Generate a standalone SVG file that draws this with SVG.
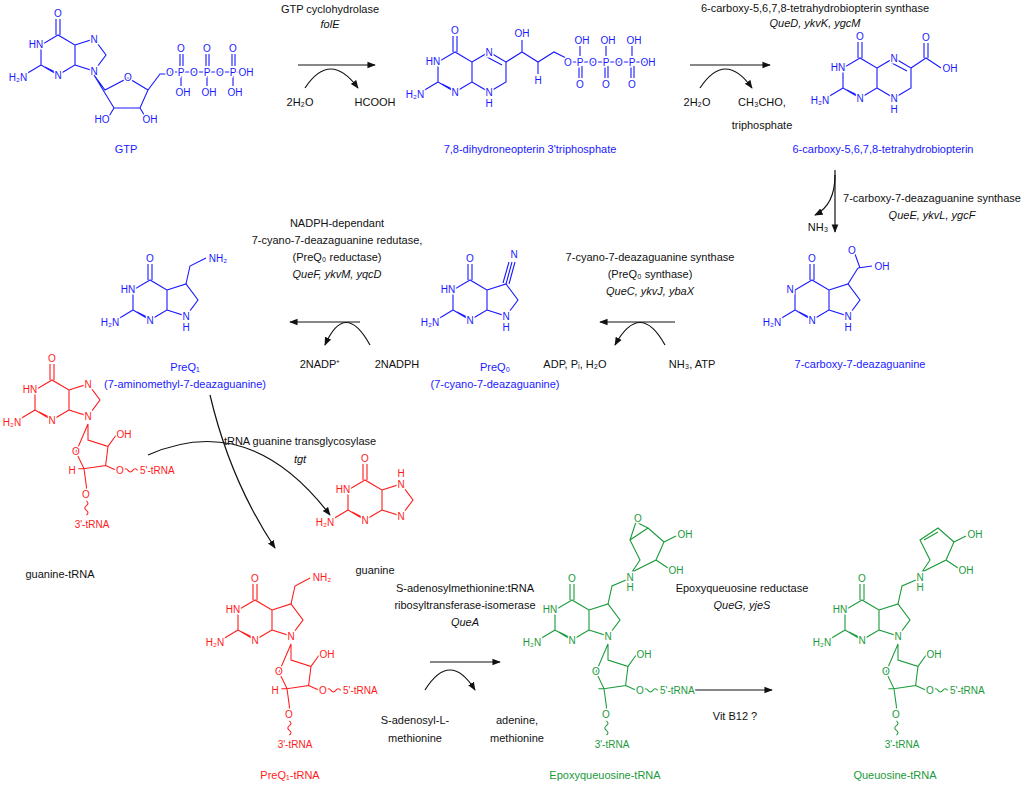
<svg xmlns="http://www.w3.org/2000/svg" xmlns:xlink="http://www.w3.org/1999/xlink" width="1024" height="789" viewBox="0 0 1024 789">
<style>
text{font-family:"Liberation Sans",Arial,sans-serif;font-size:11px}
.t{fill:#111;text-anchor:middle}
.i{font-style:italic}
.a{font-size:10px;text-anchor:middle;fill:currentColor;paint-order:stroke;stroke:#fff;stroke-width:3px}
.s{text-anchor:start}
.b{fill:none;stroke:currentColor;stroke-width:1.1}
.ar{fill:none;stroke:#111;stroke-width:1.2}
.blue{color:#1a1aff;fill:#1a1aff}
.red{color:#ff1a1a;fill:#ff1a1a}
.green{color:#1a9a3a;fill:#1a9a3a}
</style>
<defs>
<marker id="ah" viewBox="0 0 10 10" refX="9" refY="5" markerWidth="7" markerHeight="7" orient="auto"><path d="M0,1 L10,5 L0,9 Z" fill="#111"/></marker>
<path id="purine" class="b" d="M0,-20 L-17,-10 L-17,10 L0,20 L17,10 L17,-10 Z M17,-10 L36,-16 L48,0 L36,16 L17,10 M-2,-20 L-2,-36 M2,-20 L2,-36 M-13,12 L-1,18 M-17,10 L-32,19"/>
<path id="pterin" class="b" d="M0,-20 L-17,-10 L-17,10 L0,20 L17,10 L17,-10 Z M17,-10 L34,-20 L51,-10 L51,10 L34,20 L17,10 M-2,-20 L-2,-36 M2,-20 L2,-36 M-13,12 L-1,18 M-17,10 L-32,19 M30,-16 L47,-7"/>
<g id="sugar" class="b">
<path d="M0,0 L0,20 L25,28 L22,52 L-5,56 L-15,35 Z M25,28 L35,14 M22,52 L36,58 M-5,56 L-2,78 L-2,84 M-12,56 L-5,56" stroke-width="1.3"/>
<path d="M44,58 q3,-4 6,0 t6,0 t6,0 M-2,96 q4,3 0,6 t0,6 t0,6" stroke-width="1.3"/>
</g>
</defs>

<g id="connectors">
<line class="ar" x1="298" y1="65" x2="375" y2="65" marker-end="url(#ah)"/>
<path class="ar" d="M305,88 Q330,50 358,88" marker-end="url(#ah)"/>
<line class="ar" x1="690" y1="65" x2="770" y2="65" marker-end="url(#ah)"/>
<path class="ar" d="M700,88 Q725,50 752,88" marker-end="url(#ah)"/>
<line class="ar" x1="835" y1="170" x2="835" y2="232" marker-end="url(#ah)"/>
<path class="ar" d="M835,175 Q835,205 815,215" marker-end="url(#ah)"/>
<line class="ar" x1="675" y1="322" x2="600" y2="322" marker-end="url(#ah)"/>
<path class="ar" d="M665,345 Q640,300 615,345" marker-end="url(#ah)"/>
<line class="ar" x1="360" y1="322" x2="290" y2="322" marker-end="url(#ah)"/>
<path class="ar" d="M370,345 Q345,300 325,345" marker-end="url(#ah)"/>
<path class="ar" d="M210,395 Q230,480 275,548" marker-end="url(#ah)"/>
<path class="ar" d="M148,455 Q250,410 330,515" marker-end="url(#ah)"/>
<line class="ar" x1="430" y1="662" x2="500" y2="662" marker-end="url(#ah)"/>
<path class="ar" d="M425,690 Q450,650 475,690" marker-end="url(#ah)"/>
<line class="ar" x1="695" y1="690" x2="772" y2="690" marker-end="url(#ah)"/>
</g>

<g id="labels">
<text class="t" x="330" y="13">GTP cyclohydrolase</text>
<text class="t i" x="330" y="28">folE</text>
<text class="t" x="300" y="106">2H₂O</text>
<text class="t" x="375" y="106">HCOOH</text>
<text class="t" x="815" y="12">6-carboxy-5,6,7,8-tetrahydrobiopterin synthase</text>
<text class="t i" x="815" y="27">QueD, ykvK, ygcM</text>
<text class="t" x="697" y="106">2H₂O</text>
<text class="t" x="762" y="106">CH₃CHO,</text>
<text class="t" x="762" y="129">triphosphate</text>
<text class="t" x="932" y="202">7-carboxy-7-deazaguanine synthase</text>
<text class="t i" x="932" y="219">QueE, ykvL, ygcF</text>
<text class="t" x="818" y="231">NH₃</text>
<text class="t" x="650" y="261">7-cyano-7-deazaguanine synthase</text>
<text class="t" x="650" y="278">(PreQ₀ synthase)</text>
<text class="t i" x="650" y="295">QueC, ykvJ, ybaX</text>
<text class="t" x="575" y="368">ADP, Pᵢ, H₂O</text>
<text class="t" x="692" y="368">NH₃, ATP</text>
<text class="t" x="337" y="227">NADPH-dependant</text>
<text class="t" x="337" y="244">7-cyano-7-deazaguanine redutase,</text>
<text class="t" x="337" y="261">(PreQ₀ reductase)</text>
<text class="t i" x="337" y="278">QueF, ykvM, yqcD</text>
<text class="t" x="320" y="368">2NADP⁺</text>
<text class="t" x="397" y="368">2NADPH</text>
<text class="t" x="300" y="445">tRNA guanine transglycosylase</text>
<text class="t i" x="300" y="463">tgt</text>
<text class="t" x="465" y="592">S-adenosylmethionine:tRNA</text>
<text class="t" x="465" y="609">ribosyltransferase-isomerase</text>
<text class="t i" x="465" y="626">QueA</text>
<text class="t" x="415" y="724">S-adenosyl-L-</text>
<text class="t" x="415" y="742">methionine</text>
<text class="t" x="517" y="724">adenine,</text>
<text class="t" x="517" y="742">methionine</text>
<text class="t" x="742" y="592">Epoxyqueuosine reductase</text>
<text class="t i" x="742" y="609">QueG, yjeS</text>
<text class="t" x="735" y="720">Vit B12 ?</text>
<text class="t" x="60" y="578">guanine-tRNA</text>
<text class="t" x="375" y="574">guanine</text>
</g>

<g id="GTP" class="blue">
<g transform="translate(58,55)"><use href="#purine"/>
<text class="a" x="0" y="-38">O</text><text class="a" x="-22" y="-7">HN</text><text class="a" x="0" y="24">N</text><text class="a" x="-40" y="26">H₂N</text><text class="a" x="36" y="-12">N</text><text class="a" x="36" y="20">N</text></g>
<path class="b" d="M94,75 L105,90 L128,78 L148,90 L140,108 L114,108 Z M114,108 L108,118 M140,108 L146,118 M148,90 L160,74 L166,74"/>
<text class="a" x="128" y="81">O</text><text class="a" x="102" y="123">HO</text><text class="a" x="150" y="123">OH</text>
<path class="b" d="M170,72 H240 M180,66 V54 M183,66 V54 M206,66 V54 M209,66 V54 M232,66 V54 M235,66 V54 M181,76 V86 M207,76 V86 M233,76 V86"/>
<text class="a" x="170" y="76">O</text><text class="a" x="181" y="76">P</text><text class="a" x="194" y="76">O</text><text class="a" x="207" y="76">P</text><text class="a" x="220" y="76">O</text><text class="a" x="233" y="76">P</text><text class="a" x="246" y="76">OH</text>
<text class="a" x="181" y="52">O</text><text class="a" x="207" y="52">O</text><text class="a" x="233" y="52">O</text>
<text class="a" x="183" y="96">OH</text><text class="a" x="209" y="96">OH</text><text class="a" x="235" y="96">OH</text>
<text x="126" y="153" style="text-anchor:middle">GTP</text>
</g>

<g id="neopterin" class="blue">
<g transform="translate(455,72)"><use href="#pterin"/>
<text class="a" x="0" y="-38">O</text><text class="a" x="-22" y="-7">HN</text><text class="a" x="0" y="24">N</text><text class="a" x="-40" y="26">H₂N</text><text class="a" x="34" y="-16">N</text><text class="a" x="34" y="24">N</text><text class="a" x="34" y="35">H</text></g>
<path class="b" d="M506,62 L522,52 L538,62 L554,52 L566,58 M522,52 L522,40 M538,62 L538,74"/>
<text class="a" x="522" y="37">OH</text><text class="a" x="538" y="84">H</text>
<path class="b" d="M570,62 H650 M580,56 V46 M606,56 V46 M632,56 V46 M579,66 V78 M582,66 V78 M605,66 V78 M608,66 V78 M631,66 V78 M634,66 V78"/>
<text class="a" x="568" y="66">O</text><text class="a" x="580" y="66">P</text><text class="a" x="593" y="66">O</text><text class="a" x="606" y="66">P</text><text class="a" x="619" y="66">O</text><text class="a" x="632" y="66">P</text><text class="a" x="648" y="66">OH</text>
<text class="a" x="582" y="44">OH</text><text class="a" x="608" y="44">OH</text><text class="a" x="634" y="44">OH</text>
<text class="a" x="580" y="88">O</text><text class="a" x="606" y="88">O</text><text class="a" x="632" y="88">O</text>
<text x="530" y="153" style="text-anchor:middle">7,8-dihydroneopterin 3'triphosphate</text>
</g>

<g id="carboxypterin" class="blue">
<g transform="translate(860,78)"><use href="#pterin"/>
<text class="a" x="0" y="-38">O</text><text class="a" x="-22" y="-7">HN</text><text class="a" x="0" y="24">N</text><text class="a" x="-40" y="26">H₂N</text><text class="a" x="34" y="-16">N</text><text class="a" x="34" y="24">N</text><text class="a" x="34" y="35">H</text></g>
<path class="b" d="M911,68 L926,58 L941,68 M924,58 V43 M928,58 V43"/>
<text class="a" x="926" y="41">O</text><text class="a" x="950" y="72">OH</text>
<text x="883" y="153" style="text-anchor:middle">6-carboxy-5,6,7,8-tetrahydrobiopterin</text>
</g>

<g id="carboxydeaza" class="blue">
<g transform="translate(812,300)"><use href="#purine"/>
<text class="a" x="0" y="-38">O</text><text class="a" x="-22" y="-7">N</text><text class="a" x="0" y="24">N</text><text class="a" x="-40" y="26">H₂N</text><text class="a" x="36" y="20">N</text><text class="a" x="36" y="31">H</text></g>
<path class="b" d="M848,284 L858,268 M860,268 L855,254 M858,268 L872,266"/>
<text class="a" x="882" y="270">OH</text><text class="a" x="852" y="254">O</text>
<text x="860" y="368" style="text-anchor:middle">7-carboxy-7-deazaguanine</text>
</g>

<g id="PreQ0" class="blue">
<g transform="translate(470,300)"><use href="#purine"/>
<text class="a" x="0" y="-38">O</text><text class="a" x="-22" y="-7">HN</text><text class="a" x="0" y="24">N</text><text class="a" x="-40" y="26">H₂N</text><text class="a" x="36" y="20">N</text><text class="a" x="36" y="31">H</text></g>
<path class="b" d="M506,284 L512,262 M509,284 L515,262 M503,283 L509,262"/>
<text class="a" x="514" y="258">N</text>
<text x="495" y="371" style="text-anchor:middle">PreQ₀</text>
<text x="495" y="388" style="text-anchor:middle">(7-cyano-7-deazaguanine)</text>
</g>

<g id="PreQ1" class="blue">
<g transform="translate(150,300)"><use href="#purine"/>
<text class="a" x="0" y="-38">O</text><text class="a" x="-22" y="-7">HN</text><text class="a" x="0" y="24">N</text><text class="a" x="-40" y="26">H₂N</text><text class="a" x="36" y="20">N</text><text class="a" x="36" y="31">H</text></g>
<path class="b" d="M186,284 L190,266 L206,258"/>
<text class="a" x="218" y="262">NH₂</text>
<text x="185" y="371" style="text-anchor:middle">PreQ₁</text>
<text x="185" y="388" style="text-anchor:middle">(7-aminomethyl-7-deazaguanine)</text>
</g>

<g id="guanine-tRNA" class="red">
<g transform="translate(52,400)"><use href="#purine"/>
<text class="a" x="0" y="-38">O</text><text class="a" x="-22" y="-7">HN</text><text class="a" x="0" y="24">N</text><text class="a" x="-40" y="26">H₂N</text><text class="a" x="36" y="-12">N</text><text class="a" x="36" y="20">N</text></g>
<use href="#sugar" transform="translate(88,424) scale(0.8)"/>
<text class="a" x="76" y="455">O</text><text class="a" x="124" y="438">OH</text><text class="a" x="120" y="474">O</text>
<text class="a s" x="140" y="474">5'-tRNA</text><text class="a" x="86" y="498">O</text><text class="a" x="92" y="528">3'-tRNA</text><text class="a" x="72" y="474">H</text>
</g>

<g id="guanine" class="red">
<g transform="translate(365,500)"><use href="#purine"/>
<text class="a" x="0" y="-38">O</text><text class="a" x="-22" y="-7">HN</text><text class="a" x="0" y="24">N</text><text class="a" x="-40" y="26">H₂N</text><text class="a" x="36" y="-12">N</text><text class="a" x="36" y="-23">H</text><text class="a" x="36" y="20">N</text></g>
</g>

<g id="PreQ1-tRNA" class="red">
<g transform="translate(255,620)"><use href="#purine"/>
<text class="a" x="0" y="-38">O</text><text class="a" x="-22" y="-7">HN</text><text class="a" x="0" y="24">N</text><text class="a" x="-40" y="26">H₂N</text><text class="a" x="36" y="20">N</text></g>
<path class="b" d="M291,604 L295,586 L310,578"/>
<text class="a" x="322" y="581">NH₂</text>
<use href="#sugar" transform="translate(291,644) scale(0.8)"/>
<text class="a" x="279" y="675">O</text><text class="a" x="327" y="658">OH</text><text class="a" x="323" y="694">O</text>
<text class="a s" x="343" y="694">5'-tRNA</text><text class="a" x="289" y="718">O</text><text class="a" x="295" y="748">3'-tRNA</text><text class="a" x="275" y="694">H</text>
<text x="290" y="779" style="text-anchor:middle">PreQ₁-tRNA</text>
</g>

<g id="Epoxyqueuosine-tRNA" class="green">
<g transform="translate(572,620)"><use href="#purine"/>
<text class="a" x="0" y="-38">O</text><text class="a" x="-22" y="-7">HN</text><text class="a" x="0" y="24">N</text><text class="a" x="-40" y="26">H₂N</text><text class="a" x="36" y="20">N</text></g>
<path class="b" d="M608,604 L612,586 L626,580 M632,572 L640,560 L630,540 L648,528 L664,542 L656,560 Z M630,540 L636,522 L648,528 M664,542 L676,536 M656,560 L668,568"/>
<text class="a" x="630" y="581">N</text><text class="a" x="630" y="591">H</text><text class="a" x="638" y="522">O</text><text class="a" x="685" y="538">OH</text><text class="a" x="676" y="574">OH</text>
<use href="#sugar" transform="translate(608,644) scale(0.8)"/>
<text class="a" x="596" y="675">O</text><text class="a" x="644" y="658">OH</text><text class="a" x="640" y="694">O</text>
<text class="a s" x="660" y="694">5'-tRNA</text><text class="a" x="606" y="718">O</text><text class="a" x="612" y="748">3'-tRNA</text>
<text x="605" y="779" style="text-anchor:middle">Epoxyqueuosine-tRNA</text>
</g>

<g id="Queuosine-tRNA" class="green">
<g transform="translate(862,620)"><use href="#purine"/>
<text class="a" x="0" y="-38">O</text><text class="a" x="-22" y="-7">HN</text><text class="a" x="0" y="24">N</text><text class="a" x="-40" y="26">H₂N</text><text class="a" x="36" y="20">N</text></g>
<path class="b" d="M898,604 L902,586 L916,580 M922,572 L930,560 L920,540 L938,528 L954,542 L946,560 Z M924,540 L938,532 M954,542 L966,536 M946,560 L958,568"/>
<text class="a" x="920" y="581">N</text><text class="a" x="920" y="591">H</text><text class="a" x="975" y="538">OH</text><text class="a" x="966" y="574">OH</text>
<use href="#sugar" transform="translate(898,644) scale(0.8)"/>
<text class="a" x="886" y="675">O</text><text class="a" x="934" y="658">OH</text><text class="a" x="930" y="694">O</text>
<text class="a s" x="950" y="694">5'-tRNA</text><text class="a" x="896" y="718">O</text><text class="a" x="902" y="748">3'-tRNA</text>
<text x="895" y="779" style="text-anchor:middle">Queuosine-tRNA</text>
</g>
</svg>
